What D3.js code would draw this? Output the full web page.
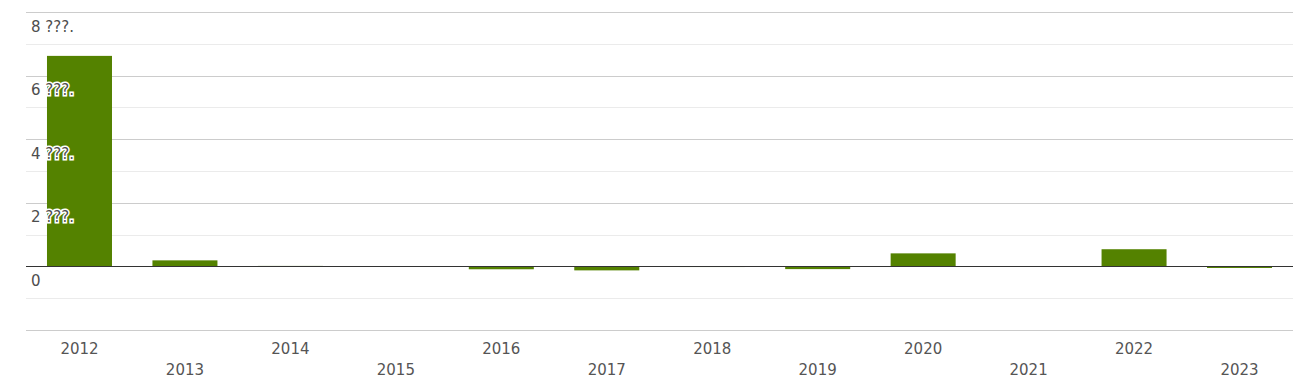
<!DOCTYPE html>
<html>
<head>
<meta charset="utf-8">
<script src="https://cdn.jsdelivr.net/npm/d3@7"></script>
<style>
  body { margin: 0; background: #fff; }
  svg { display: block; font-family: "DejaVu Sans", sans-serif; }
</style>
</head>
<body>
<svg width="1293" height="384"></svg>
<script>
let width = 1293;
let height = 384;

// data
let years = ['2012', '2013', '2014', '2015', '2016', '2017', '2018', '2019', '2020', '2021', '2022', '2023'];
let values = [6620, 190, 15, -15, -90, -125, -20, -85, 410, 0, 540, -50];
let majorTicks = [-2000, 0, 2000, 4000, 6000, 8000];
let minorTicks = [-1000, 1000, 3000, 5000, 7000];
let tickLabels = ['', '0', '2 ???.', '4 ???.', '6 ???.', '8 ???.'];

let x = d3.scaleBand()
  .domain(years)
  .range([26, 1293])
  .paddingInner(0.3836)
  .paddingOuter(0.199);

let y = d3.scaleLinear()
  .domain([-2000, 8000])
  .range([330, 12]);

let svg = d3.select('svg');

svg.append('g')
  .attr('class', 'minor')
  .selectAll('line')
  .data(minorTicks)
  .enter()
    .append('line')
    .attr('stroke', '#ebebeb')
    .attr('x1', 26)
    .attr('x2', width)
    .attr('y1', d => Math.round(y(d)) + 0.5)
    .attr('y2', d => Math.round(y(d)) + 0.5)
  ;

svg.append('g')
  .attr('class', 'major')
  .selectAll('line')
  .data(majorTicks.filter(d => d !== 0))
  .enter()
    .append('line')
    .attr('stroke', '#cccccc')
    .attr('x1', 26)
    .attr('x2', width)
    .attr('y1', d => Math.round(y(d)) + 0.5)
    .attr('y2', d => Math.round(y(d)) + 0.5)
  ;

svg.append('g')
  .attr('class', 'bars')
  .selectAll('rect')
  .data(values)
  .enter()
    .append('rect')
    .attr('fill', '#548200')
    .attr('x', (d, i) => x(years[i]))
    .attr('width', x.bandwidth())
    .attr('y', d => y(Math.max(0, d)))
    .attr('height', d => Math.abs(y(d) - y(0)))
  ;

svg.append('line')
  .attr('stroke', '#333')
  .attr('x1', 26)
  .attr('x2', width)
  .attr('y1', Math.round(y(0)) + 0.5)
  .attr('y2', Math.round(y(0)) + 0.5)
  ;

svg.append('g')
  .attr('class', 'ylabels')
  .selectAll('text')
  .data(majorTicks)
  .enter()
    .append('text')
    .attr('x', 31)
    .attr('y', d => y(d) + 19.5)
    .attr('font-size', 15)
    .attr('fill', '#4d4d4d')
    .attr('stroke', '#fff')
    .attr('stroke-width', 3)
    .attr('paint-order', 'stroke')
    .text((d, i) => tickLabels[i])
  ;

svg.append('g')
  .attr('class', 'xlabels')
  .selectAll('text')
  .data(years)
  .enter()
    .append('text')
    .attr('x', d => x(d) + x.bandwidth() / 2)
    .attr('y', (d, i) => i % 2 === 0 ? 353.5 : 374.5)
    .attr('text-anchor', 'middle')
    .attr('font-size', 15)
    .attr('fill', '#555')
    .text(d => d)
  ;
</script>
</body>
</html>
